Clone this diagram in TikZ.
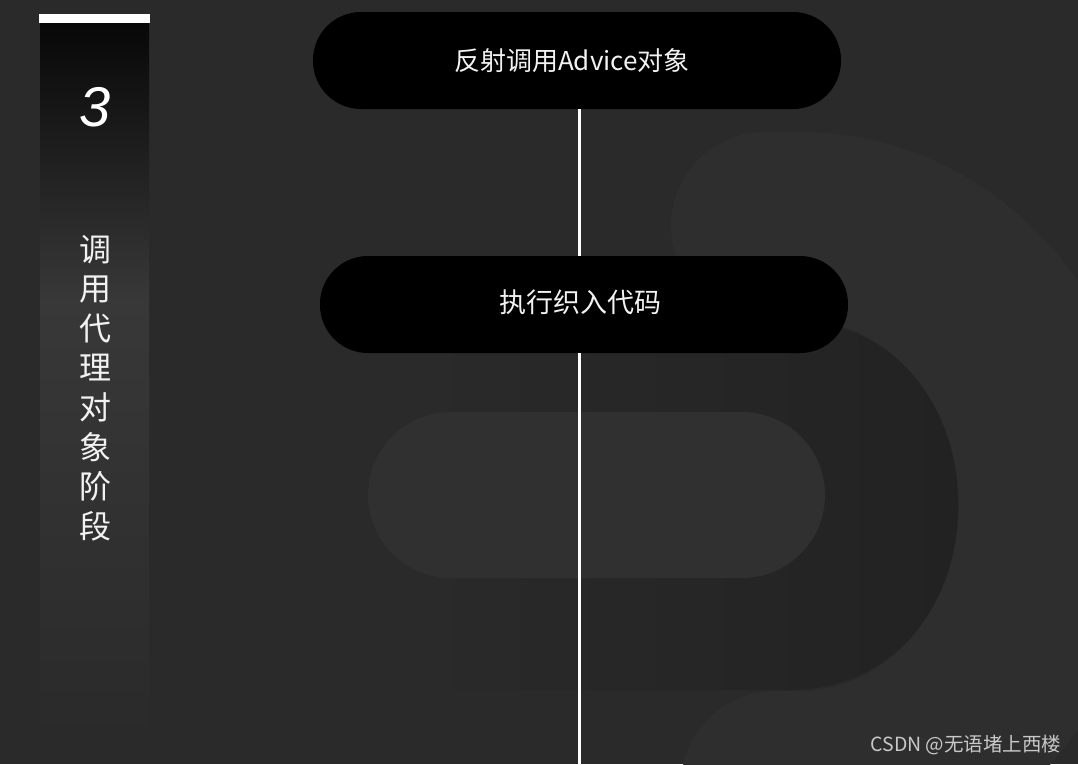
\documentclass[tikz,border=0pt]{standalone}
\usepackage{fontspec}
\newfontfamily\cjk{Noto Sans CJK SC}
\newfontfamily\numfont{Liberation Sans}
\definecolor{bgc}{HTML}{2A2A2A}
\definecolor{darkc}{HTML}{222222}
\definecolor{bandc}{HTML}{2E2E2E}
\definecolor{pillc}{HTML}{303030}
\definecolor{txtc}{HTML}{F2F2F2}
\definecolor{wmc}{HTML}{C8C8C8}
\tikzset{
  blackpill/.style={fill=black, draw=none, minimum width=528pt, minimum height=97pt,
    rounded corners=48pt, inner sep=0pt},
  pilltext/.style={text=txtc, font=\cjk\fontsize{26}{30}\selectfont},
  link/.style={draw=white, line width=3pt},
}
\begin{document}
\begin{tikzpicture}[x=1pt,y=-1pt]
\useasboundingbox (0,0) rectangle (1078,764);
\fill[bgc] (0,0) rectangle (1078,764);
% decorative background shapes
\shade[shading=axis, left color=bgc, middle color=darkc, right color=darkc]
  (420,320) -- (790,320) .. controls (890,320) and (958,400) .. (958,505)
  .. controls (958,610) and (890,690) .. (790,690) -- (420,690) -- cycle;
\draw[bandc, line width=188pt, line cap=round]
  (765,226) -- (800,226) .. controls (940,226) and (1053,350) .. (1053,505)
  .. controls (1053,660) and (940,785) .. (800,785) -- (775,785);
\fill[pillc, rounded corners=83pt] (368,412) rectangle (825,578);
% left panel
\fill[white] (39,14) rectangle (150,23);
\shade[top color=black!97, bottom color={rgb,255:red,56;green,56;blue,56}] (40,23) rectangle (149,300);
\shade[top color={rgb,255:red,56;green,56;blue,56}, middle color={rgb,255:red,62;green,62;blue,62},
  bottom color=bgc] (40,299.5) rectangle (149,740);
% flow
\coordinate (lx) at (579.5,0);
\coordinate (lend) at (579.5,764);
\node[blackpill] (p1) at (577,60.5) {};
\node[blackpill] (p2) at (584,304.5) {};
\draw[link] (p1.south -| lx) -- (p2.north -| lx);
\draw[link] (p2.south -| lx) -- (lend);
\node[pilltext] (t1) at (572,61) {反射调用Advice对象};
\node[pilltext, font=\cjk\fontsize{27}{30}\selectfont] (t2) at (580,302) {执行织入代码};
\node[text=white, font=\numfont\itshape\fontsize{56}{60}\selectfont] (num) at (95,107) {3};
\node[text=txtc, align=center, font=\cjk\fontsize{32}{39.6}\selectfont] (stage) at (95,388)
  {调\\用\\代\\理\\对\\象\\阶\\段};
\node[text=wmc, font=\cjk\fontsize{19.5}{22}\selectfont] (wm) at (966,745) {CSDN @无语堵上西楼};
\end{tikzpicture}
\end{document}
